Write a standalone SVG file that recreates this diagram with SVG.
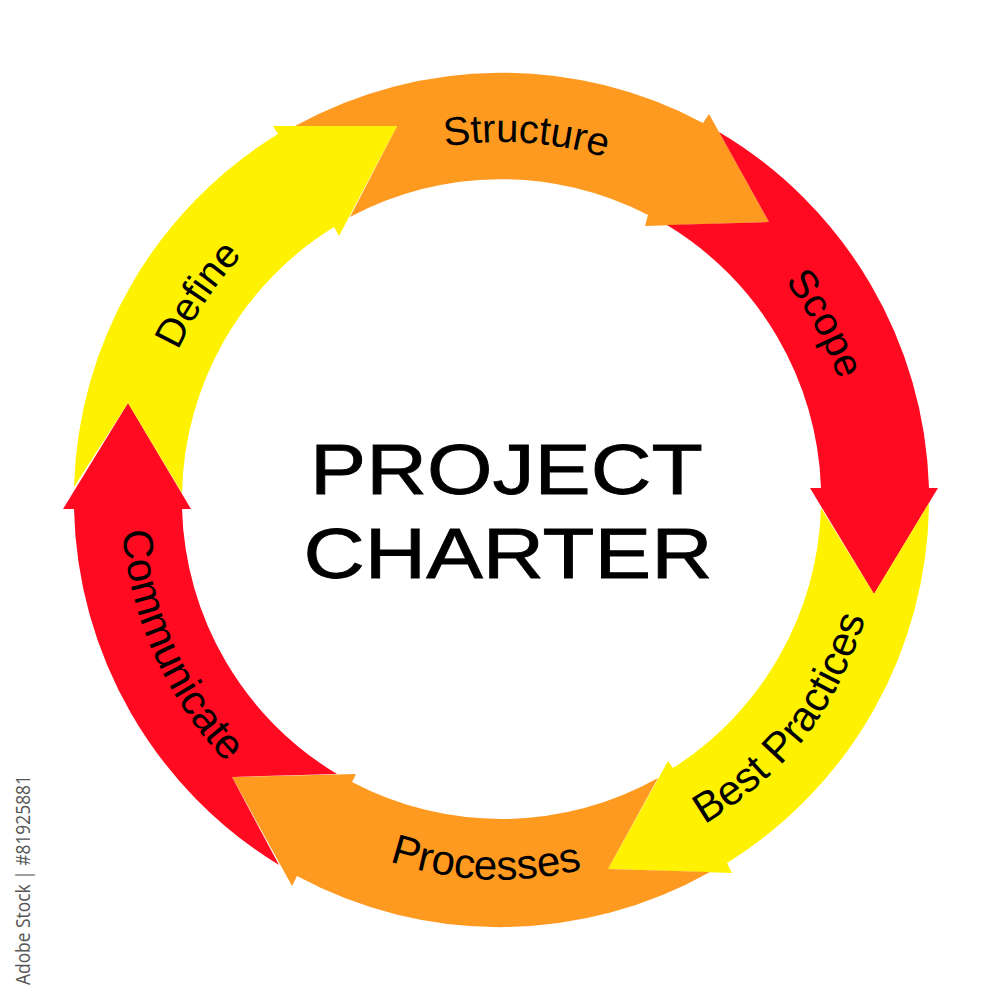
<svg xmlns="http://www.w3.org/2000/svg" width="1000" height="1000" viewBox="0 0 1000 1000">
<style>
.lb{font-family:"Liberation Sans",Arial,sans-serif;font-size:40px;fill:#000;text-anchor:middle}
.lg{font-size:42px}
.ti{font-family:"Liberation Sans",Arial,sans-serif;font-size:71px;fill:#000;stroke:#000;stroke-width:.8;text-anchor:middle}
.red{fill:#ff0a20}.yel{fill:#fff200}.org{fill:#ff9a20}
</style>
<defs>
<path id="pStructure" d="M477.1 857.2A358 358 0 0 1 525.9 142.8A358 358 0 0 1 477.1 857.2"/>
<path id="pDefine" d="M796.6 699.5A356 356 0 0 1 206.4 300.5A356 356 0 0 1 796.6 699.5"/>
<path id="pScope" d="M187.2 671.5A358 358 0 0 1 815.8 328.5A358 358 0 0 1 187.2 671.5"/>
<path id="pBest" d="M197.3 262.6A386 386 0 0 0 805.7 737.4A386 386 0 0 0 197.3 262.6"/>
<path id="pProc" d="M517.8 120.4A380 380 0 0 0 485.2 879.6A380 380 0 0 0 517.8 120.4"/>
<path id="pComm" d="M848.5 344.2A380 380 0 0 0 154.5 655.8A380 380 0 0 0 848.5 344.2"/>
</defs>
<rect width="1000" height="1000" fill="#fff"/>
<g id="connectors">
<path id="seg-structure" class="org" d="M295 126A428 428 0 0 1 703 123L709 114L769 222L645 226L648 215A320 320 0 0 0 350 217L397 126Z"/>
<path id="seg-scope" class="red" d="M719 132A428 428 0 0 1 929 488H938L874 594L810 488H821A320 320 0 0 0 667 225L769 222Z"/>
<path id="seg-best" class="yel" d="M929 503A428 428 0 0 1 727 863L732 873L608 869L668 761L673 768A320 320 0 0 0 821 508L874 594Z"/>
<path id="seg-processes" class="org" d="M710 872A428 428 0 0 1 297 876L292 886L232 777L356 774L352 782A320 320 0 0 0 658 778L608 869Z"/>
<path id="seg-communicate" class="red" d="M279 865A428 428 0 0 1 74 509H63L128 403L191 509H182A320 320 0 0 0 337 774L232 777Z"/>
<path id="seg-define" class="yel" d="M74 487A428 428 0 0 1 278 134L273 126L397 126L339 236L334 227A320 320 0 0 0 182 493L128 403Z"/>
</g>
<g id="structure"><text class="lb"><textPath href="#pStructure" startOffset="50%">Structure</textPath></text></g>
<g id="scope"><text class="lb"><textPath href="#pScope" startOffset="50%">Scope</textPath></text></g>
<g id="best-practices"><text class="lb lg"><textPath href="#pBest" startOffset="50%">Best Practices</textPath></text></g>
<g id="processes"><text class="lb lg"><textPath href="#pProc" startOffset="50%">Processes</textPath></text></g>
<g id="communicate"><text class="lb lg"><textPath href="#pComm" startOffset="50%">Communicate</textPath></text></g>
<g id="define"><text class="lb"><textPath href="#pDefine" startOffset="50%">Define</textPath></text></g>
<g id="center">
<text class="ti" x="506.5" y="494" textLength="393" lengthAdjust="spacingAndGlyphs">PROJECT</text>
<text class="ti" x="508" y="578" textLength="409" lengthAdjust="spacingAndGlyphs">CHARTER</text>
</g>
<text transform="translate(30 985) rotate(-90)" x="0" y="0" font-family="Open Sans, sans-serif" font-size="20" fill="#555" textLength="210" lengthAdjust="spacingAndGlyphs">Adobe Stock | #81925881</text>
</svg>
